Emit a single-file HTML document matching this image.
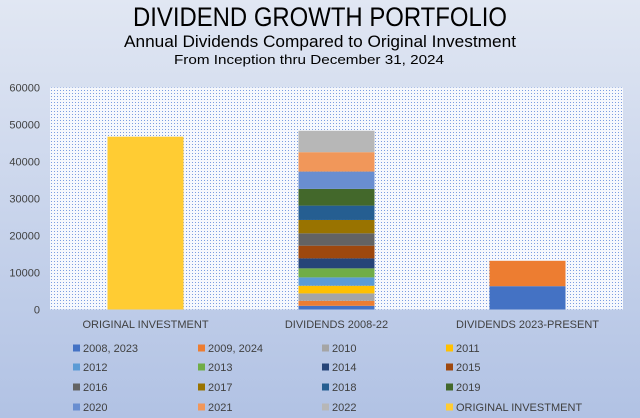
<!DOCTYPE html>
<html><head><meta charset="utf-8"><style>
html,body{margin:0;padding:0;width:640px;height:418px;overflow:hidden}
svg{display:block;font-family:"Liberation Sans",sans-serif}
</style></head><body>
<svg id="chart" width="640" height="418" viewBox="0 0 640 418">
<defs>
<linearGradient id="bg" x1="0" y1="0" x2="0" y2="1">
<stop offset="0" stop-color="#e1e7f3"/><stop offset="1" stop-color="#b1c2e4"/>
</linearGradient>
<pattern id="dots" width="3" height="3" patternUnits="userSpaceOnUse">
<rect width="3" height="3" fill="#f6f8fd"/>
<rect x="0" y="0" width="1" height="1" fill="#7c9de0"/>
</pattern>
</defs>
<rect width="640" height="418" fill="url(#bg)"/>
<text x="320" y="26" text-anchor="middle" font-size="27" fill="#000" textLength="374" lengthAdjust="spacingAndGlyphs">DIVIDEND GROWTH PORTFOLIO</text>
<text x="320" y="47" text-anchor="middle" font-size="17" fill="#000" textLength="392" lengthAdjust="spacingAndGlyphs">Annual Dividends Compared to Original Investment</text>
<text x="309" y="64" text-anchor="middle" font-size="13" fill="#000" textLength="270" lengthAdjust="spacingAndGlyphs">From Inception thru December 31, 2024</text>
<rect x="50" y="87.5" width="573" height="222" fill="url(#dots)"/>
<g id="yaxis"></g><g id="bars"></g><g id="xaxis"></g><g id="legend"></g>
</svg>
<script>
const categories = ["ORIGINAL INVESTMENT","DIVIDENDS 2008-22","DIVIDENDS 2023-PRESENT"];
const seriesNames = ["2008, 2023","2009, 2024","2010","2011","2012","2013","2014","2015","2016","2017","2018","2019","2020","2021","2022","ORIGINAL INVESTMENT"];
const seriesColors = ["#4472c4","#ed7d31","#a5a5a5","#ffc000","#5b9bd5","#70ad47","#264478","#9e480e","#636363","#997300","#255e91","#43682b","#698ed0","#f1975a","#b7b7b7","#ffcc33"];
const origInvestment = [46700, 0, 0];
const dividends2008_22 = [1000,1350,2000,2070,2260,2440,2700,3430,3340,3610,3880,4510,4690,5240,5780];
const dividends2023on = [6300, 6860];
const yTicks = [0,10000,20000,30000,40000,50000,60000];

const NS="http://www.w3.org/2000/svg";
const X0=50,X1=623,Y0=309.5,Y1=87.5,YMAX=60000;
const y=v=>Y0-(v/YMAX)*(Y0-Y1);
const bandW=(X1-X0)/categories.length;
const xc=i=>X0+bandW*(i+0.5);
const BW=76;
function mk(tag,attrs,parent){const e=document.createElementNS(NS,tag);for(const k in attrs)e.setAttribute(k,attrs[k]);parent.appendChild(e);return e;}
const ya=document.getElementById('yaxis');
yTicks.forEach(t=>{const e=mk('text',{x:40,y:y(t)+4,'text-anchor':'end','font-size':11,fill:'#404040'},ya);


e.textContent=t;});
const bars=document.getElementById('bars');
function seg(i,base,val,color,name){const r=mk('rect',{x:xc(i)-BW/2,y:y(base+val),width:BW,height:y(base)-y(base+val),fill:color},bars);

}
seg(0,0,origInvestment[0],seriesColors[15],'bar-original-investment');
let b=0;dividends2008_22.forEach((v,k)=>{seg(1,b,v,seriesColors[k],'bar-segment-'+(2008+k));b+=v;});
b=0;dividends2023on.forEach((v,k)=>{seg(2,b,v,seriesColors[k],'bar-segment-'+(2023+k));b+=v;});
const xa=document.getElementById('xaxis');
categories.forEach((c,i)=>{const e=mk('text',{x:xc(i),y:328,'text-anchor':'middle','font-size':11,fill:'#404040'},xa);


e.textContent=c;});
const lg=document.getElementById('legend');
const colX=[73,198,322,446],rowY=[348,367,387,407];
seriesNames.forEach((n,k)=>{const cx=colX[k%4],cy=rowY[Math.floor(k/4)];
const g=mk('g',{},lg);


mk('rect',{x:cx,y:cy-3.5,width:7,height:7,fill:seriesColors[k]},g);
const t=mk('text',{x:cx+10,y:cy+4,'font-size':11,fill:'#404040'},g);t.textContent=n;});
</script>
</body></html>
